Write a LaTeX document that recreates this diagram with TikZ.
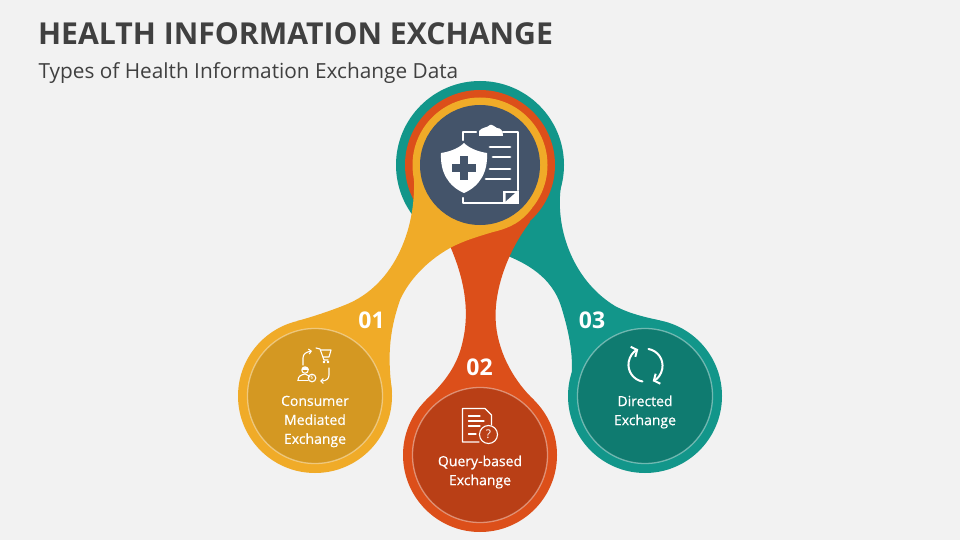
\documentclass[tikz,border=0pt]{standalone}
\usepackage{fontspec}
\setmainfont{Open Sans}
\newfontfamily\captionface[FakeBold=0.5]{Open Sans}
\usetikzlibrary{positioning,arrows.meta}
\definecolor{pagegrey}{HTML}{F2F2F2}
\definecolor{inkgrey}{HTML}{404040}
\definecolor{hubslate}{HTML}{44546A}
\definecolor{tealouter}{HTML}{12968A}
\definecolor{tealinner}{HTML}{0F7B70}
\definecolor{rustouter}{HTML}{DC4F1A}
\definecolor{rustinner}{HTML}{B93F16}
\definecolor{amberouter}{HTML}{F0AB28}
\definecolor{amberinner}{HTML}{D49822}
\tikzset{
  disc/.style={circle,inner sep=0pt,minimum size=#1},
  innerdisc/.style={disc=135pt,draw=white,draw opacity=0.4,line width=1.3pt},
  caption/.style={text=white,align=center,font=\fontsize{14}{19}\selectfont\captionface},
  numeral/.style={text=white,font=\fontsize{23}{26}\selectfont\bfseries},
  iconline/.style={draw=white,line width=1.1pt,line cap=round,line join=round},
  hubline/.style={draw=white,line width=2.2pt,line cap=round,line join=round},
}
\begin{document}
\begin{tikzpicture}[x=1pt,y=-1pt]
  \useasboundingbox[fill=pagegrey] (0,0) rectangle (960,540);

  % Define nodes
  \node[anchor=west,text=inkgrey,font=\fontsize{30.2}{36}\selectfont\bfseries] (title) at (34.5,33.5) {HEALTH INFORMATION EXCHANGE};
  \node[anchor=west,text=inkgrey,font=\fontsize{20.8}{24}\selectfont] (subtitle) at (35,73.5) {Types of Health Information Exchange Data};

  % Teal arm
  \node[disc=168pt,fill=tealouter] (hubteal) at (480,165) {};
  \node[disc=154pt,fill=tealouter] (directedouter) at (645,396) {};
  \fill[tealouter] (500,253) .. controls (528,263) and (552,278) .. (561,306)
    .. controls (569,332) and (577,365) .. (568,396) -- (645,396) -- (660,320.5)
    .. controls (645,317) and (630,314) .. (615,306)
    .. controls (572,280) and (553,225) .. (562,180) -- cycle;

  % Rust arm
  \node[disc=150pt,fill=rustouter] (hubrust) at (480,165) {};
  \node[disc=154pt,fill=rustouter] (queryouter) at (480,455) {};
  \fill[rustouter] (445,235) .. controls (458,262) and (472,300) .. (463,340)
    .. controls (458,365) and (445,382) .. (426,400) -- (534,400)
    .. controls (515,382) and (499,355) .. (496,325)
    .. controls (493,295) and (505,255) .. (530,222) -- (480,165) -- cycle;

  % Amber arm
  \node[disc=135pt,fill=amberouter] (hubamber) at (480,165) {};
  \node[disc=154pt,fill=amberouter] (consumerouter) at (315,396) {};
  \fill[amberouter] (413.5,172) .. controls (418,225) and (396,285) .. (345,305)
    .. controls (330,311) and (312,317) .. (297,321) -- (315,396) -- (392,392)
    .. controls (388,360) and (388,335) .. (400,300)
    .. controls (408,282) and (425,262) .. (450,248)
    .. controls (465,240) and (480,236) .. (493,232)
    .. controls (510,228) and (522,222) .. (532,208) -- (480,165) -- cycle;

  \node[disc=120pt,fill=hubslate] (hub) at (480,165) {};
  \node[innerdisc,fill=amberinner] (consumer) at (315,396) {};
  \node[innerdisc,fill=rustinner] (query) at (480,455) {};
  \node[innerdisc,fill=tealinner] (directed) at (645,396) {};

  \node[numeral] (num01) at (371.5,320) {01};
  \node[numeral] (num02) at (479.5,367) {02};
  \node[numeral] (num03) at (592,320) {03};

  \node[caption] (consumertext) at (315,421.5) {Consumer\\Mediated\\Exchange};
  \node[caption] (querytext) at (480,472) {Query-based\\Exchange};
  \node[caption] (directedtext) at (645,412) {Directed\\Exchange};

  % Hub icon
  \draw[hubline] (476,132) -- (463,132) -- (463,140);
  \draw[hubline] (503,132) -- (518,132) -- (518,190);
  \draw[hubline] (463,198) -- (463,203) -- (503,203);
  \fill[white] (479,136) -- (479,131) .. controls (482,127) and (487,128) .. (490,125)
    .. controls (492,124) and (495,127) .. (497,128) .. controls (501,128) and (503,131) .. (503,136) -- cycle;
  \fill[white] (503,191) -- (519,191) -- (519,204) -- (503,204) -- cycle;
  \fill[hubslate] (505.5,201.5) -- (505.5,193) -- (515,193) -- cycle;
  \fill[white] (464,143) .. controls (470,149) and (480,152) .. (487,153)
    .. controls (488,172) and (480,186) .. (464,193)
    .. controls (448,186) and (440,172) .. (441,153)
    .. controls (448,152) and (458,149) .. (464,143) -- cycle;
  \fill[hubslate] (460,156) rectangle (468,180);
  \fill[hubslate] (452,164) rectangle (476,172);
  \foreach \xa/\ya in {490/147,493/157,490/169,486/179}
    \draw[hubline,line width=2.8pt] (\xa,\ya) -- (510,\ya);

  % Consumer icon
  \draw[iconline,-{Straight Barb[length=2.5pt,width=5pt]}] (303,365) -- (303,358) .. controls (303,354) and (306,352) .. (312,351);
  \draw[iconline,-{Straight Barb[length=2.5pt,width=5pt]}] (329,368) -- (329,375) .. controls (329,379) and (326,381) .. (320,381);
  \draw[iconline] (316,348) -- (320,349) -- (324,360) -- (328,360);
  \draw[iconline] (321,350) -- (331,350) -- (329,357) -- (323,357);
  \draw[iconline] (324,362) circle (0.8) (328,362) circle (0.8);
  \draw[iconline] (305,370) circle (3.2);
  \fill[white] (301.5,369.5) .. controls (301.5,365.5) and (308.5,365.5) .. (308.5,369.5) -- cycle;
  \draw[iconline] (298,380.5) .. controls (298,376) and (301,375) .. (305,374) .. controls (308,375) and (309,376) .. (310,377);
  \draw[iconline] (298,380.5) -- (308,380.5);
  \draw[iconline] (312,378) circle (3.8);
  \node[text=white,font=\fontsize{5}{5}\selectfont] (consumermark) at (312,378) {\$};

  % Query icon
  \draw[iconline] (491.5,425) -- (491.5,415) -- (485,408.5) -- (462.5,408.5) -- (462.5,442) -- (479,442);
  \foreach \ya/\xb in {416/480,421/484,426/480,434/476}
    \draw[iconline] (468.5,\ya) -- (\xb,\ya);
  \draw[iconline] (488.5,434.5) circle (9);
  \node[text=white,font=\fontsize{12}{12}\selectfont] (querymark) at (488.5,434.5) {?};

  % Directed icon
  \draw[hubline,line width=2pt,-{Straight Barb[length=4.5pt,width=11pt]}] (642.5,381.5) arc (100:245:17);
  \draw[hubline,line width=2pt,-{Straight Barb[length=4.5pt,width=11pt]}] (648.5,349) arc (-80:65:17);
\end{tikzpicture}
\end{document}
